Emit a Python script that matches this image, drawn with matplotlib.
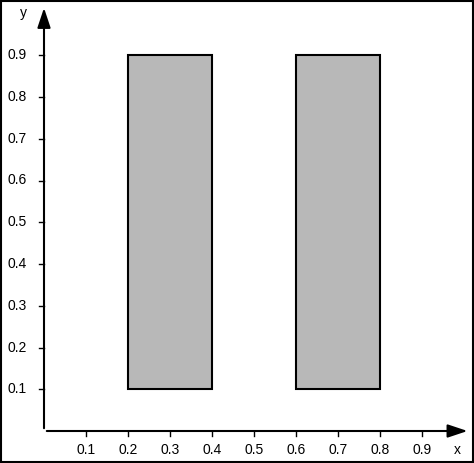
import matplotlib.pyplot as plt
from matplotlib.patches import Rectangle

# rectangles: (x0, y0, width, height)
rects_x = [0.2, 0.6]
rects_y = [0.1, 0.1]
rects_w = [0.2, 0.2]
rects_h = [0.8, 0.8]
ticks = [0.1, 0.2, 0.3, 0.4, 0.5, 0.6, 0.7, 0.8, 0.9]

plt.rcParams['font.family'] = ['Liberation Sans', 'DejaVu Sans']
fig = plt.figure(figsize=(4.74, 4.63), dpi=100)
ax = fig.add_axes([0, 0, 1, 1])
ax.set_xlim(-44 / 420, 430 / 420)
ax.set_ylim(-32 / 417.5, 431 / 417.5)
ax.axis('off')

for x0, y0, w, h in zip(rects_x, rects_y, rects_w, rects_h):
    ax.add_patch(Rectangle((x0, y0), w, h, facecolor='#b8b8b8', edgecolor='black', lw=1.5))

arrow = dict(arrowstyle='-|>,head_length=1.2,head_width=0.4', color='black', lw=1.5)
ax.annotate('', xy=(1.015, 0), xytext=(0, 0), arrowprops=arrow)
ax.annotate('', xy=(0, 1.02), xytext=(0, 0), arrowprops=arrow)

for t in ticks:
    ax.plot([t, t], [0, -0.012], color='black', lw=1)
    ax.text(t, -0.045, str(t), ha='center', va='center', fontsize=10)
    ax.plot([0, -0.012], [t, t], color='black', lw=1)
    ax.text(-0.065, t, str(t), ha='center', va='center', fontsize=10)
ax.text(0.985, -0.045, 'x', ha='center', va='center', fontsize=10)
ax.text(-0.05, 1.0, 'y', ha='center', va='center', fontsize=10)

fig.patches.append(Rectangle((0.002, 0.002), 0.996, 0.996, transform=fig.transFigure,
                             fill=False, edgecolor='black', lw=1.5))
fig.savefig('out.png', dpi=100)
